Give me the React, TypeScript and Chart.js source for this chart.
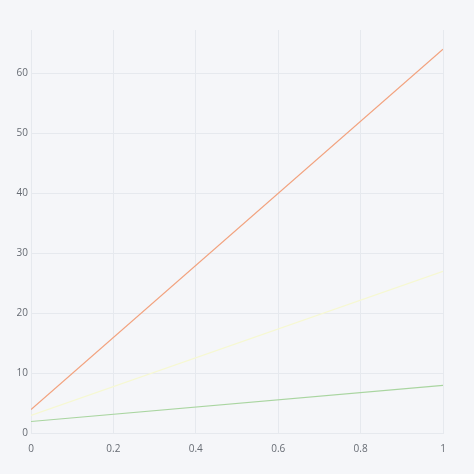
import { useEffect, useRef } from 'react'
import { Chart, registerables, type ChartConfiguration } from 'chart.js'

Chart.register(...registerables)

const xValues = [0, 1]
const orangeSeries = [4, 64]
const yellowSeries = [3, 27]
const greenSeries = [2, 8]
const yTicks = [0, 10, 20, 30, 40, 50, 60]
const xTicks = [0, 0.2, 0.4, 0.6, 0.8, 1]

const GRID = '#e6e9ee'
const TEXT = '#666b73'

export default function App() {
  const canvasRef = useRef<HTMLCanvasElement | null>(null)
  const chartRef = useRef<Chart | null>(null)

  useEffect(() => {
    document.body.style.margin = '0'
    if (!canvasRef.current) return

    const toPoints = (ys: number[]) => ys.map((y, i) => ({ x: xValues[i], y }))

    const config: ChartConfiguration<'line'> = {
      type: 'line',
      data: {
        datasets: [
          { label: 'a', data: toPoints(orangeSeries), borderColor: '#f2a27e', borderWidth: 1.2 },
          { label: 'b', data: toPoints(yellowSeries), borderColor: '#f6f8d2', borderWidth: 1.2 },
          { label: 'c', data: toPoints(greenSeries), borderColor: '#a9d5a0', borderWidth: 1.2 },
        ],
      },
      options: {
        responsive: true,
        maintainAspectRatio: false,
        animation: false,
        elements: { point: { radius: 0 }, line: { tension: 0 } },
        layout: { padding: { top: 30, right: 31, left: 0, bottom: 0 } },
        scales: {
          x: {
            type: 'linear',
            min: 0,
            max: 1,
            afterBuildTicks: axis => {
              axis.ticks = xTicks.map(value => ({ value }))
            },
            afterFit: axis => {
              axis.height = 40.5
            },
            grid: { color: GRID, drawTicks: false },
            border: { color: GRID },
            ticks: {
              color: TEXT,
              padding: 10,
              font: { family: '"Open Sans", sans-serif', size: 10 },
              callback: v => String(Number(v)),
            },
          },
          y: {
            type: 'linear',
            min: 0,
            max: 67.2,
            afterBuildTicks: axis => {
              axis.ticks = yTicks.map(value => ({ value }))
            },
            afterFit: axis => {
              axis.width = 31
            },
            grid: { color: GRID, drawTicks: false },
            border: { color: GRID },
            ticks: {
              color: TEXT,
              padding: 3,
              font: { family: '"Open Sans", sans-serif', size: 10 },
            },
          },
        },
        plugins: { legend: { display: false }, tooltip: { enabled: false } },
      },
    }

    chartRef.current = new Chart(canvasRef.current, config)
    return () => chartRef.current?.destroy()
  }, [])

  return (
    <div style={{ width: 474, height: 474, background: '#f5f6f9', position: 'relative' }}>
      <canvas ref={canvasRef} role="img" aria-label="Three rising lines from x 0 to 1" />
    </div>
  )
}
